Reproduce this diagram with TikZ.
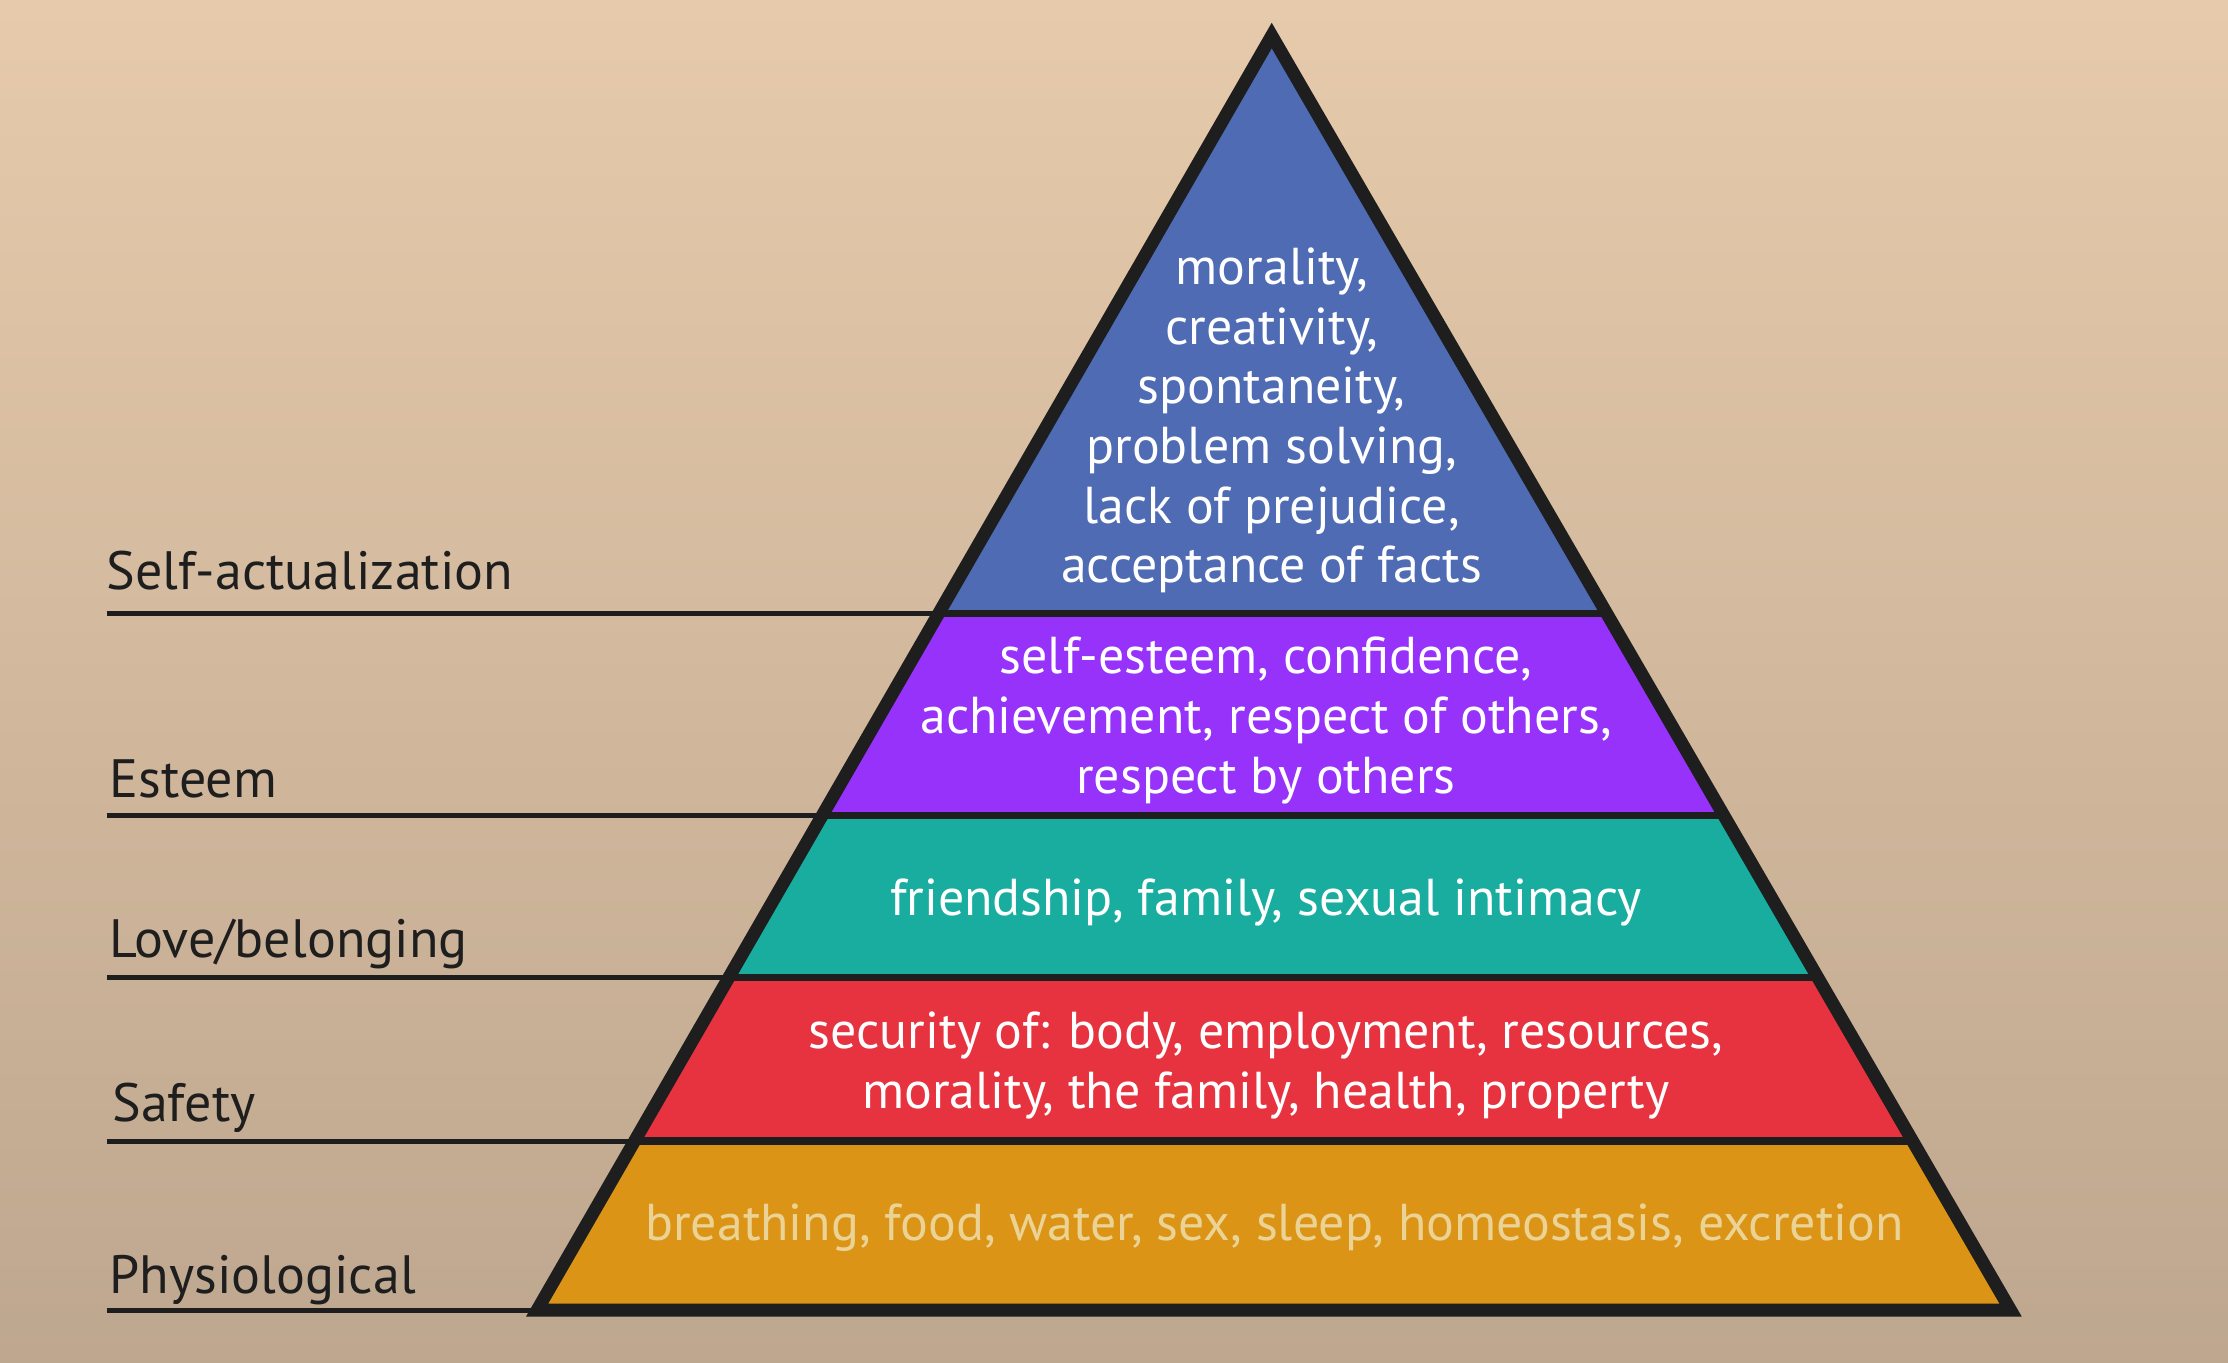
\documentclass[tikz,border=0pt]{standalone}
\usepackage{fontspec}
\setmainfont{PT Sans}
\definecolor{bgtop}{HTML}{E6CAAB}
\definecolor{bgbot}{HTML}{BEA78F}
\definecolor{cblue}{HTML}{4E6BB3}
\definecolor{cpurp}{HTML}{9632FA}
\definecolor{cteal}{HTML}{19ADA0}
\definecolor{cred}{HTML}{E6333F}
\definecolor{corng}{HTML}{DB9415}
\definecolor{otxt}{HTML}{EAD395}
\definecolor{ink}{HTML}{1E1E1E}
\begin{document}
\begin{tikzpicture}[x=1pt,y=-1pt,
  band/.style={align=center,text=white,font=\fontsize{36.5}{42}\selectfont},
  lab/.style={anchor=base west,text=ink,font=\fontsize{38}{40}\selectfont,inner sep=0pt},
  rule/.style={draw=ink,line width=3.5pt}]
\shade[top color=bgtop,bottom color=bgbot] (0,0) rectangle (1568,959);
\useasboundingbox (0,0) rectangle (1568,959);
\coordinate (A) at (895,25);
\coordinate (L) at (378,922);
\coordinate (R) at (1415,922);
\begin{scope}
\clip (A) -- (L) -- (R) -- cycle;
\fill[cblue] (300,0) rectangle (1500,432);
\fill[cpurp] (300,432) rectangle (1500,574);
\fill[cteal] (300,574) rectangle (1500,688);
\fill[cred] (300,688) rectangle (1500,803);
\fill[corng] (300,803) rectangle (1500,930);
\foreach \y in {432,574,688,803}{\draw[ink,line width=5pt] (300,\y) -- (1500,\y);}
\end{scope}
\draw[ink,line width=9pt,line join=miter] (A) -- (L) -- (R) -- cycle;
\foreach \y/\n in {432/a,574/b,688/c,803/d,922/e}{
  \coordinate (s\n) at (75,\y);
  \coordinate (t\n) at ({895-0.5764*(\y-25)},\y);
  \draw[rule] (s\n) -- (t\n);}
\node[lab] (l1) at (75,415) {Self-actualization};
\node[lab] (l2) at (77,561) {Esteem};
\node[lab] (l3) at (77,674) {Love/belonging};
\node[lab] (l4) at (79,789) {Safety};
\node[lab] (l5) at (77,910) {Physiological};
\node[band] (b1) at (895,296) {morality,\\creativity,\\spontaneity,\\problem solving,\\lack of prejudice,\\acceptance of facts};
\node[band] (b2) at (891,507) {self-esteem, confidence,\\achievement, respect of others,\\respect by others};
\node[band] (b3) at (891,635) {friendship, family, sexual intimacy};
\node[band] (b4) at (891,750) {security of: body, employment, resources,\\morality, the family, health, property};
\node[band,text=otxt] (b5) at (897,864) {breathing, food, water, sex, sleep, homeostasis, excretion};
\end{tikzpicture}
\end{document}
